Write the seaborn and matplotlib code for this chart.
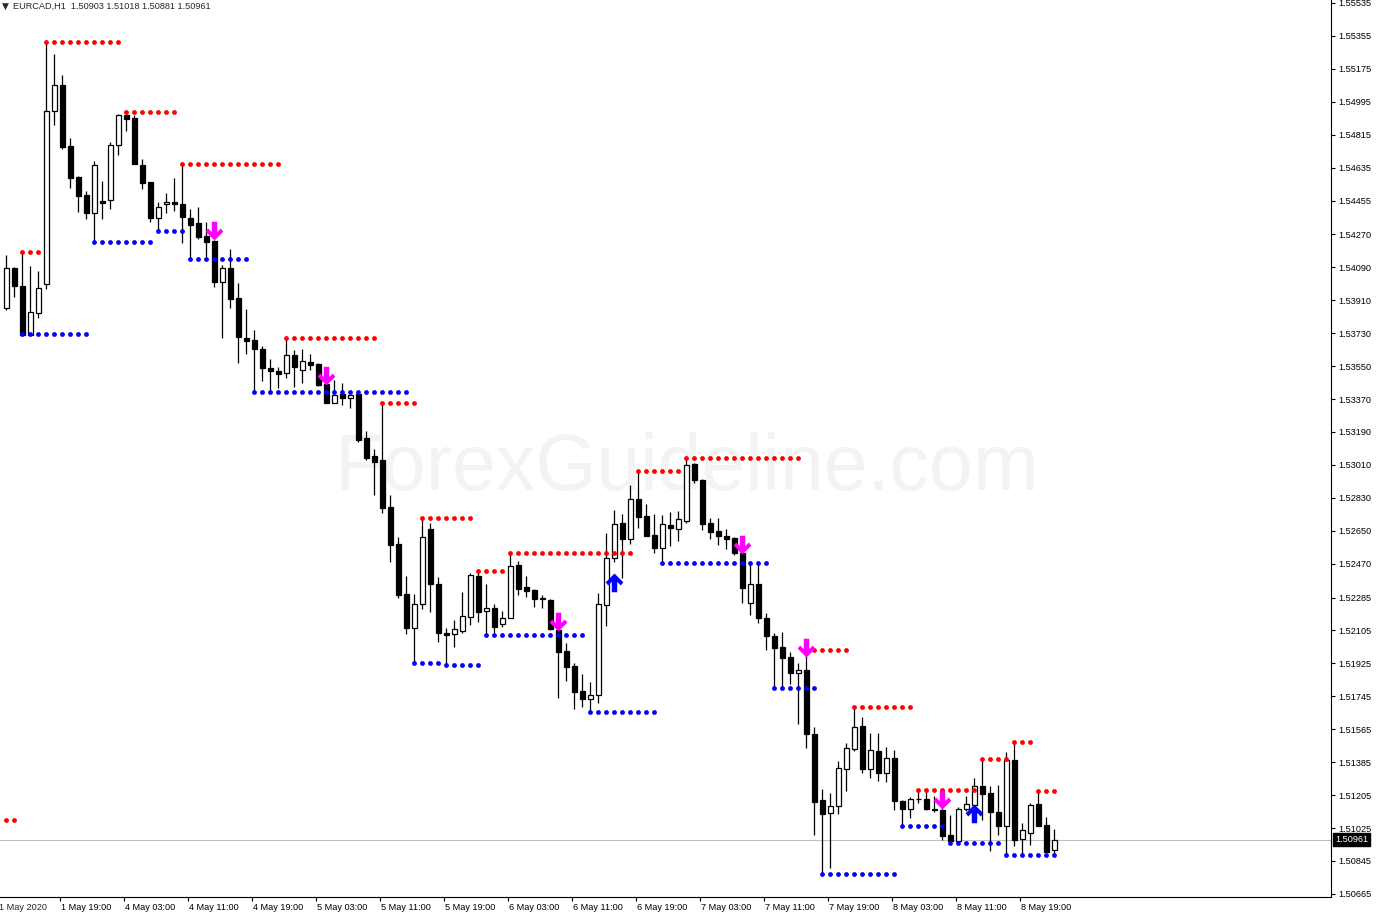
import numpy as np
import matplotlib
matplotlib.use('Agg')
import matplotlib.pyplot as plt
import seaborn as sns
from matplotlib.path import Path
from matplotlib.transforms import ScaledTranslation, blended_transform_factory

sns.set_style('white')
plt.rcParams['font.family'] = ['Liberation Sans', 'DejaVu Sans']

# EURCAD H1 candles, bar 0 = 1 May 2020 12:00
opens = [1.53868, 1.54086, 1.53988, 1.53720, 1.53840, 1.53999, 1.54944, 1.55086, 1.54753, 1.54584,
         1.54485, 1.54387, 1.54452, 1.54458, 1.54758, 1.54922, 1.54906, 1.54649, 1.54556, 1.54360,
         1.54436, 1.54447, 1.54436, 1.54360, 1.54332, 1.54261, 1.54234, 1.54010, 1.54086, 1.53922,
         1.53704, 1.53693, 1.53643, 1.53540, 1.53523, 1.53512, 1.53611, 1.53529, 1.53572, 1.53562,
         1.53452, 1.53348, 1.53397, 1.53376, 1.53397, 1.53157, 1.53059, 1.53037, 1.52780, 1.52578,
         1.52304, 1.52118, 1.52250, 1.52660, 1.52359, 1.52091, 1.52086, 1.52102, 1.52179, 1.52403,
         1.52211, 1.52228, 1.52140, 1.52173, 1.52463, 1.52343, 1.52326, 1.52282, 1.52272, 1.52108,
         1.51993, 1.51911, 1.51774, 1.51731, 1.51752, 1.52244, 1.52501, 1.52692, 1.52605, 1.52824,
         1.52731, 1.52627, 1.52556, 1.52681, 1.52660, 1.52703, 1.53015, 1.52928, 1.52692, 1.52649,
         1.52621, 1.52611, 1.52529, 1.52255, 1.52359, 1.52173, 1.52075, 1.52015, 1.51960, 1.51873,
         1.51889, 1.51539, 1.51178, 1.51107, 1.51146, 1.51348, 1.51457, 1.51583, 1.51348, 1.51446,
         1.51326, 1.51408, 1.51173, 1.51129, 1.51186, 1.51184, 1.51129, 1.51124, 1.50987, 1.50954,
         1.51129, 1.51151, 1.51255, 1.51217, 1.51113, 1.51036, 1.51397, 1.50965, 1.50998, 1.51157,
         1.51042, 1.50903]
highs = [1.54157, 1.54092, 1.54174, 1.54097, 1.54070, 1.55321, 1.55256, 1.55141, 1.54797, 1.54589,
         1.54507, 1.54671, 1.54562, 1.54775, 1.54928, 1.54939, 1.54922, 1.54682, 1.54556, 1.54447,
         1.54496, 1.54578, 1.54655, 1.54409, 1.54420, 1.54338, 1.54239, 1.54103, 1.54190, 1.54004,
         1.53862, 1.53747, 1.53660, 1.53589, 1.53545, 1.53704, 1.53638, 1.53643, 1.53616, 1.53567,
         1.53463, 1.53474, 1.53458, 1.53392, 1.53397, 1.53195, 1.53097, 1.53348, 1.52846, 1.52616,
         1.52403, 1.52304, 1.52720, 1.52692, 1.52397, 1.52118, 1.52162, 1.52315, 1.52419, 1.52436,
         1.52359, 1.52250, 1.52211, 1.52529, 1.52485, 1.52403, 1.52332, 1.52299, 1.52277, 1.52113,
         1.52037, 1.51927, 1.51867, 1.51823, 1.52310, 1.52638, 1.52763, 1.52742, 1.52900, 1.52977,
         1.52796, 1.52742, 1.52736, 1.52753, 1.52758, 1.53048, 1.53020, 1.52933, 1.52720, 1.52720,
         1.52660, 1.52616, 1.52534, 1.52474, 1.52474, 1.52201, 1.52091, 1.52097, 1.51987, 1.51927,
         1.51998, 1.51577, 1.51239, 1.51217, 1.51392, 1.51490, 1.51687, 1.51632, 1.51545, 1.51545,
         1.51468, 1.51452, 1.51178, 1.51195, 1.51233, 1.51233, 1.51200, 1.51146, 1.51097, 1.51139,
         1.51200, 1.51299, 1.51403, 1.51255, 1.51260, 1.51441, 1.51496, 1.51053, 1.51162, 1.51228,
         1.51086, 1.51018]
lows = [1.53857, 1.53928, 1.53720, 1.53720, 1.53813, 1.53971, 1.54868, 1.54737, 1.54523, 1.54392,
        1.54354, 1.54228, 1.54354, 1.54409, 1.54704, 1.54835, 1.54655, 1.54518, 1.54338, 1.54288,
        1.54387, 1.54398, 1.54223, 1.54135, 1.54245, 1.54146, 1.53982, 1.53704, 1.53868, 1.53567,
        1.53616, 1.53408, 1.53469, 1.53419, 1.53430, 1.53485, 1.53436, 1.53458, 1.53529, 1.53441,
        1.53348, 1.53348, 1.53337, 1.53321, 1.53135, 1.53037, 1.52846, 1.52747, 1.52479, 1.52282,
        1.52086, 1.51927, 1.52222, 1.52206, 1.52042, 1.51916, 1.52015, 1.52091, 1.52135, 1.52151,
        1.52080, 1.52091, 1.52124, 1.52173, 1.52299, 1.52288, 1.52233, 1.52228, 1.52108, 1.51736,
        1.51829, 1.51676, 1.51687, 1.51659, 1.51709, 1.52130, 1.52479, 1.52392, 1.52578, 1.52665,
        1.52621, 1.52529, 1.52474, 1.52567, 1.52594, 1.52692, 1.52911, 1.52654, 1.52605, 1.52572,
        1.52550, 1.52518, 1.52255, 1.52190, 1.52146, 1.51998, 1.51791, 1.51791, 1.51812, 1.51594,
        1.51463, 1.50987, 1.50774, 1.50807, 1.51102, 1.51228, 1.51446, 1.51326, 1.51299, 1.51282,
        1.51277, 1.51124, 1.51036, 1.51080, 1.51162, 1.51124, 1.51113, 1.50960, 1.50943, 1.50943,
        1.51118, 1.51113, 1.51069, 1.50900, 1.50987, 1.50878, 1.50927, 1.50878, 1.50932, 1.51036,
        1.50894, 1.50881]
closes = [1.54086, 1.53988, 1.53720, 1.53846, 1.53977, 1.54944, 1.55086, 1.54748, 1.54578, 1.54480,
          1.54387, 1.54649, 1.54441, 1.54758, 1.54922, 1.54901, 1.54655, 1.54551, 1.54360, 1.54420,
          1.54447, 1.54436, 1.54365, 1.54321, 1.54256, 1.54228, 1.54010, 1.54086, 1.53917, 1.53709,
          1.53687, 1.53643, 1.53540, 1.53523, 1.53507, 1.53611, 1.53545, 1.53578, 1.53556, 1.53447,
          1.53348, 1.53392, 1.53376, 1.53392, 1.53146, 1.53048, 1.53026, 1.52774, 1.52572, 1.52299,
          1.52118, 1.52250, 1.52616, 1.52359, 1.52091, 1.52080, 1.52113, 1.52184, 1.52408, 1.52206,
          1.52228, 1.52124, 1.52173, 1.52457, 1.52332, 1.52321, 1.52277, 1.52277, 1.52113, 1.51987,
          1.51905, 1.51769, 1.51731, 1.51752, 1.52250, 1.52501, 1.52687, 1.52605, 1.52824, 1.52725,
          1.52621, 1.52556, 1.52687, 1.52665, 1.52714, 1.53009, 1.52928, 1.52687, 1.52643, 1.52621,
          1.52605, 1.52529, 1.52337, 1.52359, 1.52173, 1.52075, 1.52009, 1.51955, 1.51873, 1.51889,
          1.51539, 1.51168, 1.51102, 1.51146, 1.51353, 1.51463, 1.51577, 1.51348, 1.51452, 1.51326,
          1.51408, 1.51173, 1.51129, 1.51184, 1.51182, 1.51129, 1.51124, 1.50982, 1.50954, 1.51129,
          1.51157, 1.51255, 1.51211, 1.51113, 1.51036, 1.51397, 1.50960, 1.51014, 1.51151, 1.51036,
          1.50894, 1.50961]

# resistance (red) and support (blue) dot runs: first bar, last bar, price
res_start = [0, 2, 5, 15, 22, 35, 47, 52, 59, 63, 79, 85, 101, 106, 114, 122, 126, 129]
res_end = [1, 4, 14, 21, 34, 46, 51, 58, 62, 78, 84, 99, 105, 113, 121, 125, 128, 131]
res_level = [1.51069, 1.54174, 1.55321, 1.54939, 1.54655, 1.53704, 1.53348, 1.52720, 1.52430,
             1.52529, 1.52977, 1.53048, 1.51998, 1.51687, 1.51233, 1.51403, 1.51496, 1.51228]
sup_start = [2, 11, 19, 23, 31, 51, 55, 60, 73, 82, 96, 102, 112, 118, 125]
sup_end = [10, 18, 22, 30, 50, 54, 59, 72, 81, 95, 101, 111, 117, 124, 131]
sup_level = [1.53725, 1.54228, 1.54288, 1.54135, 1.53410, 1.51927, 1.51916, 1.52080, 1.51659,
             1.52474, 1.51791, 1.50774, 1.51036, 1.50943, 1.50878]

# signal arrows (price = arrow tip)
sell_bars = [26, 40, 69, 92, 100, 117]
sell_price = [1.54239, 1.53447, 1.52102, 1.52523, 1.51960, 1.51129]
buy_bars = [76, 121]
buy_price = [1.52419, 1.51157]

tick_bars = [7, 15, 23, 31, 39, 47, 55, 63, 71, 79, 87, 95, 103, 111, 119, 127]
tick_labels = ['1 May 19:00', '4 May 03:00', '4 May 11:00', '4 May 19:00', '5 May 03:00',
               '5 May 11:00', '5 May 19:00', '6 May 03:00', '6 May 11:00', '6 May 19:00',
               '7 May 03:00', '7 May 11:00', '7 May 19:00', '8 May 03:00', '8 May 11:00',
               '8 May 19:00']
price_ticks = [1.55535, 1.55355, 1.55175, 1.54995, 1.54815, 1.54635, 1.54455, 1.54270, 1.54090,
               1.53910, 1.53730, 1.53550, 1.53370, 1.53190, 1.53010, 1.52830, 1.52650, 1.52470,
               1.52285, 1.52105, 1.51925, 1.51745, 1.51565, 1.51385, 1.51205, 1.51025, 1.50845,
               1.50665]
last_price = 1.50961

fig = plt.figure(figsize=(13.76, 9.18), dpi=100)
ax = fig.add_axes([0, 21 / 918, 1331 / 1376, 897 / 918])

x = np.arange(len(opens))
o = np.array(opens)
h = np.array(highs)
l = np.array(lows)
c = np.array(closes)
bull = c >= o

# watermark
ax.text(0.516, 1 - 490 / 897, 'ForexGuideline.com', transform=ax.transAxes, ha='center',
        va='baseline', fontsize=56.7, color='#f3f3f3', zorder=0)

ax.axhline(last_price, color='#c0c0c0', linewidth=0.8, zorder=1)

# candles
ax.vlines(x, l, h, color='black', linewidth=0.9, zorder=2)
ax.bar(x, np.abs(c - o), bottom=np.minimum(o, c), width=0.62,
       color=np.where(bull, 'white', 'black'), edgecolor='black', linewidth=0.9, zorder=3)

# dots
rx = np.concatenate([np.arange(s, e + 1) for s, e in zip(res_start, res_end)])
ry = np.concatenate([[lv] * (e - s + 1) for s, e, lv in zip(res_start, res_end, res_level)])
sx = np.concatenate([np.arange(s, e + 1) for s, e in zip(sup_start, sup_end)])
sy = np.concatenate([[lv] * (e - s + 1) for s, e, lv in zip(sup_start, sup_end, sup_level)])
sns.scatterplot(x=rx, y=ry, ax=ax, color='#ff0000', s=12, marker='o', linewidth=0,
                legend=False, zorder=4)
sns.scatterplot(x=sx, y=sy, ax=ax, color='#0000ff', s=12, marker='o', linewidth=0,
                legend=False, zorder=4)

# arrows
verts = [(-2.6, 18), (2.6, 18), (2.6, 8), (6, 11.5), (8.5, 8.5), (0, 0), (-8.5, 8.5),
         (-6, 11.5), (-2.6, 8), (-2.6, 18)]
codes = [Path.MOVETO] + [Path.LINETO] * 8 + [Path.CLOSEPOLY]
down_arrow = Path(verts, codes)
up_arrow = Path([(vx, -vy) for vx, vy in verts], codes)
ax.plot(sell_bars, sell_price, ls='none', marker=down_arrow, markersize=27, color='#ff00ff',
        mew=0, zorder=5)
ax.plot(buy_bars, buy_price, ls='none', marker=up_arrow, markersize=27, color='#0000ff',
        mew=0, zorder=5)

ax.set_xlim(-0.79, 165.59)
ax.set_ylim(1.50648, 1.55551)
ax.set_facecolor('white')
for s in ['left', 'top']:
    ax.spines[s].set_visible(False)
for s in ['right', 'bottom']:
    ax.spines[s].set_visible(True)
    ax.spines[s].set_color('black')
    ax.spines[s].set_linewidth(0.8)

ax.yaxis.tick_right()
ax.set_yticks(price_ticks)
ax.set_yticklabels([f'{p:.5f}' for p in price_ticks])
ax.tick_params(axis='y', right=True, left=False, labelright=True, labelleft=False,
               direction='out', length=3, width=0.8, pad=2, labelsize=6.6, colors='black')
ax.set_xticks(np.array(tick_bars) - 0.25)
ax.set_xticklabels(tick_labels)
ax.tick_params(axis='x', bottom=True, direction='out', length=3, width=0.8, pad=1.5,
               labelsize=6.6, colors='black')
for lbl in ax.get_xticklabels():
    lbl.set_horizontalalignment('left')
    lbl.set_transform(lbl.get_transform() + ScaledTranslation(1 / 100, 0, fig.dpi_scale_trans))
ax.set_xlabel('')
ax.set_ylabel('')

ax.text(0, 0, '1 May 2020', transform=ax.transAxes + ScaledTranslation(-1 / 100, -4.5 / 72, fig.dpi_scale_trans),
        ha='left', va='top', fontsize=6.6, clip_on=False)

# last price tag
trans = blended_transform_factory(ax.transAxes, ax.transData)
ax.text(1.0, last_price, f'{last_price:.5f}',
        transform=trans + ScaledTranslation(4 / 100, 0, fig.dpi_scale_trans),
        ha='left', va='center', fontsize=6.6, color='white', clip_on=False, zorder=6,
        bbox=dict(boxstyle='square,pad=0.2', fc='black', ec='black'))

# header
fig.text(2 / 1376, 1 - 9 / 918, '\u25bc', fontsize=6.5, va='baseline',
         family=['DejaVu Sans'])
fig.text(13 / 1376, 1 - 9 / 918, 'EURCAD,H1  1.50903 1.51018 1.50881 1.50961', fontsize=6.6,
         va='baseline')

fig.savefig('out.png', dpi=100)
